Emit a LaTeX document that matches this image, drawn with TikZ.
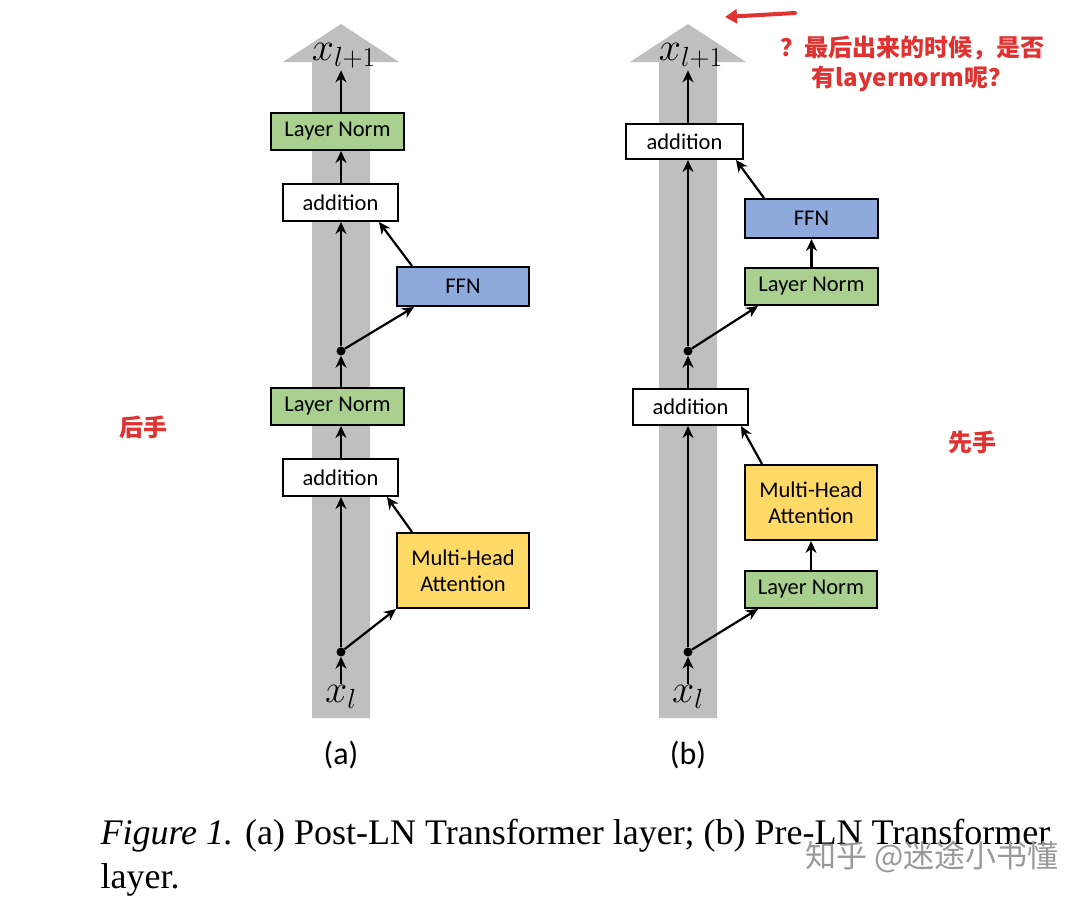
\documentclass[tikz,border=0pt]{standalone}
\usepackage{fontspec}
\setmainfont{Liberation Serif}
\newfontfamily\boxfont{Carlito}
\newfontfamily\cjk{Noto Sans CJK SC}
\usetikzlibrary{arrows.meta}
\definecolor{gcol}{RGB}{191,191,191}
\definecolor{lngreen}{RGB}{169,208,142}
\definecolor{ffnblue}{RGB}{142,169,219}
\definecolor{mhayel}{RGB}{255,217,102}
\definecolor{ann}{RGB}{225,50,50}
\tikzset{
 blk/.style={draw=black,line width=2pt,inner sep=0pt,font=\boxfont\fontsize{22.5}{26}\selectfont,align=center},
 arr/.style={-{Stealth[length=12pt,width=11pt]},line width=2.2pt},
 dot/.style={circle,fill=black,inner sep=0pt,minimum size=9pt},
 xl/.style={font=\fontsize{24}{24}\selectfont,scale=1.6,inner sep=1pt},
 red/.style={text=ann,font=\cjk\bfseries\fontsize{24}{30}\selectfont}
}
\begin{document}
\begin{tikzpicture}[x=1pt,y=-1pt]
\useasboundingbox (0,0) rectangle (1089,902);
% columns
\foreach \c in {341,688}{
 \fill[gcol] (\c-29,718) -- (\c-29,62) -- (\c-58,62) -- (\c,24) -- (\c+58,62) -- (\c+29,62) -- (\c+29,718) -- cycle;
}
% ---- (a)
\node[blk,fill=lngreen,minimum width=133pt,minimum height=37pt] (aln2) at (337.5,131.5) {Layer Norm};
\node[blk,fill=white,minimum width=115pt,minimum height=37pt] (aadd2) at (340.5,202.5) {addition};
\node[blk,fill=ffnblue,minimum width=132pt,minimum height=39pt] (affn) at (463,286.5) {FFN};
\node[dot] (ad2) at (341,351) {};
\node[blk,fill=lngreen,minimum width=133pt,minimum height=37pt] (aln1) at (337.5,406.5) {Layer Norm};
\node[blk,fill=white,minimum width=115pt,minimum height=37pt] (aadd1) at (340.5,477.5) {addition};
\node[blk,fill=mhayel,minimum width=132pt,minimum height=75pt] (amha) at (463,570.5) {Multi-Head\\Attention};
\node[dot] (ad1) at (341,652) {};
\node[xl] (axl) at (341,697) {$x_l$};
\node[xl] (axo) at (344,56) {$x_{l+1}$};
\node[font=\boxfont\fontsize{32}{34}\selectfont] (alab) at (341,755) {(a)};
\draw[arr] (axl.north) -- (ad1);
\draw[arr] (ad1) -- (aadd1.south -| ad1);
\draw[arr] (ad1) -- (amha.south west);
\coordinate (am1) at ([xshift=16pt]amha.north west);
\draw[arr] (am1) -- ([xshift=-12pt]aadd1.south east);
\draw[arr] (aadd1.north -| ad1) -- (aln1.south -| ad1);
\draw[arr] (aln1.north -| ad1) -- (ad2);
\draw[arr] (ad2) -- (aadd2.south -| ad2);
\draw[arr] (ad2) -- ([xshift=18pt]affn.south west);
\coordinate (af1) at ([xshift=16pt]affn.north west);
\draw[arr] (af1) -- ([xshift=-20pt]aadd2.south east);
\draw[arr] (aadd2.north -| ad2) -- (aln2.south -| ad2);
\draw[arr] (aln2.north -| ad2) -- (axo.south -| ad2);
% ---- (b)
\node[blk,fill=white,minimum width=117pt,minimum height=35pt] (badd2) at (684.5,141.5) {addition};
\node[blk,fill=ffnblue,minimum width=133pt,minimum height=39pt] (bffn) at (811.5,218.5) {FFN};
\node[blk,fill=lngreen,minimum width=133pt,minimum height=37pt] (bln2) at (811.5,286.5) {Layer Norm};
\node[dot] (bd2) at (688,351) {};
\node[blk,fill=white,minimum width=115pt,minimum height=36pt] (badd1) at (690.5,407) {addition};
\node[blk,fill=mhayel,minimum width=132pt,minimum height=75pt] (bmha) at (811,502.5) {Multi-Head\\Attention};
\node[blk,fill=lngreen,minimum width=132pt,minimum height=37pt] (bln1) at (811,589.5) {Layer Norm};
\node[dot] (bd1) at (688,652) {};
\node[xl] (bxl) at (688,697) {$x_l$};
\node[xl] (bxo) at (691,56) {$x_{l+1}$};
\node[font=\boxfont\fontsize{32}{34}\selectfont] (blab) at (688,755) {(b)};
\draw[arr] (bxl.north) -- (bd1);
\draw[arr] (bd1) -- (badd1.south -| bd1);
\draw[arr] (bd1) -- ([xshift=14pt]bln1.south west);
\draw[arr] (bln1) -- (bmha);
\draw[arr] ([xshift=18pt]bmha.north west) -- ([xshift=-8pt]badd1.south east);
\draw[arr] (badd1.north -| bd1) -- (bd2);
\draw[arr] (bd2) -- (badd2.south -| bd2);
\draw[arr] (bd2) -- ([xshift=14pt]bln2.south west);
\draw[arr] (bln2) -- (bffn);
\draw[arr] ([xshift=20pt]bffn.north west) -- ([xshift=-8pt]badd2.south east);
\draw[arr] (badd2.north -| bd2) -- (bxo.south -| bd2);
% ---- annotations
\node[red] (hs) at (143,427) {后手};
\node[red] (xs) at (972,442) {先手};
\coordinate (ra) at (795,13); \coordinate (rb) at (725,17);
\draw[ann,line width=4pt,line cap=round,-{Triangle[length=12pt,width=14pt]}] (ra) -- (rb);
\node[red,align=center] (q) at (912,64) {？最后出来的时候，是否\\有layernorm呢？};
% ---- caption
\node[anchor=base west,font=\fontsize{36}{40}\selectfont] (cap1) at (97,844) {\textit{Figure 1.} (a) Post-LN Transformer layer; (b) Pre-LN Transformer};
\node[anchor=base west,font=\fontsize{36}{40}\selectfont] (cap2) at (97,888) {layer.};
\node[anchor=east,text=gray!80,font=\cjk\fontsize{31}{34}\selectfont] (wm) at (1062,857) {知乎 @迷途小书懂};
\end{tikzpicture}
\end{document}
